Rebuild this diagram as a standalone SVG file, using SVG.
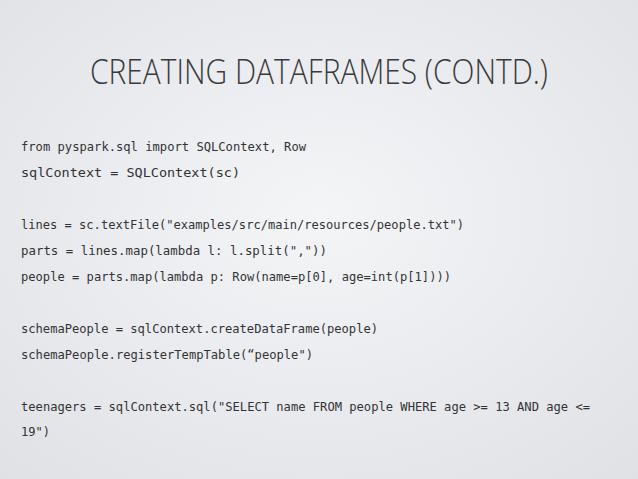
<svg xmlns="http://www.w3.org/2000/svg" width="638" height="479" viewBox="0 0 638 479">
<defs>
<radialGradient id="bg" cx="0.5" cy="0.45" r="0.75">
<stop offset="0" stop-color="#f4f5f7"/><stop offset="1" stop-color="#dfe1e5"/>
</radialGradient>
<style>
.t{font-family:"Open Sans","Liberation Sans",sans-serif;font-weight:300;font-size:35px;fill:#3a3a3c}
.c{font-family:"DejaVu Sans Mono","Liberation Mono",monospace;font-size:12.2px;fill:#333335}
</style>
</defs>
<rect width="638" height="479" fill="url(#bg)"/>
<text class="t" x="319" y="84" text-anchor="middle" textLength="458" lengthAdjust="spacingAndGlyphs">CREATING DATAFRAMES (CONTD.)</text>
<g>
<text class="c" x="21" y="151" textLength="285" lengthAdjust="spacingAndGlyphs">from pyspark.sql import SQLContext, Row</text>
<text class="c" x="21" y="177" textLength="219" lengthAdjust="spacingAndGlyphs">sqlContext = SQLContext(sc)</text>
<text class="c" x="21" y="229" textLength="443" lengthAdjust="spacingAndGlyphs">lines = sc.textFile("examples/src/main/resources/people.txt")</text>
<text class="c" x="21" y="255" textLength="306" lengthAdjust="spacingAndGlyphs">parts = lines.map(lambda l: l.split(","))</text>
<text class="c" x="21" y="281" textLength="430" lengthAdjust="spacingAndGlyphs">people = parts.map(lambda p: Row(name=p[0], age=int(p[1])))</text>
<text class="c" x="21" y="333" textLength="357" lengthAdjust="spacingAndGlyphs">schemaPeople = sqlContext.createDataFrame(people)</text>
<text class="c" x="21" y="359" textLength="292" lengthAdjust="spacingAndGlyphs">schemaPeople.registerTempTable(“people")</text>
<text class="c" x="21" y="411" textLength="569" lengthAdjust="spacingAndGlyphs">teenagers = sqlContext.sql("SELECT name FROM people WHERE age &gt;= 13 AND age &lt;=</text>
<text class="c" x="21" y="436" textLength="29" lengthAdjust="spacingAndGlyphs">19")</text>
</g>
</svg>
